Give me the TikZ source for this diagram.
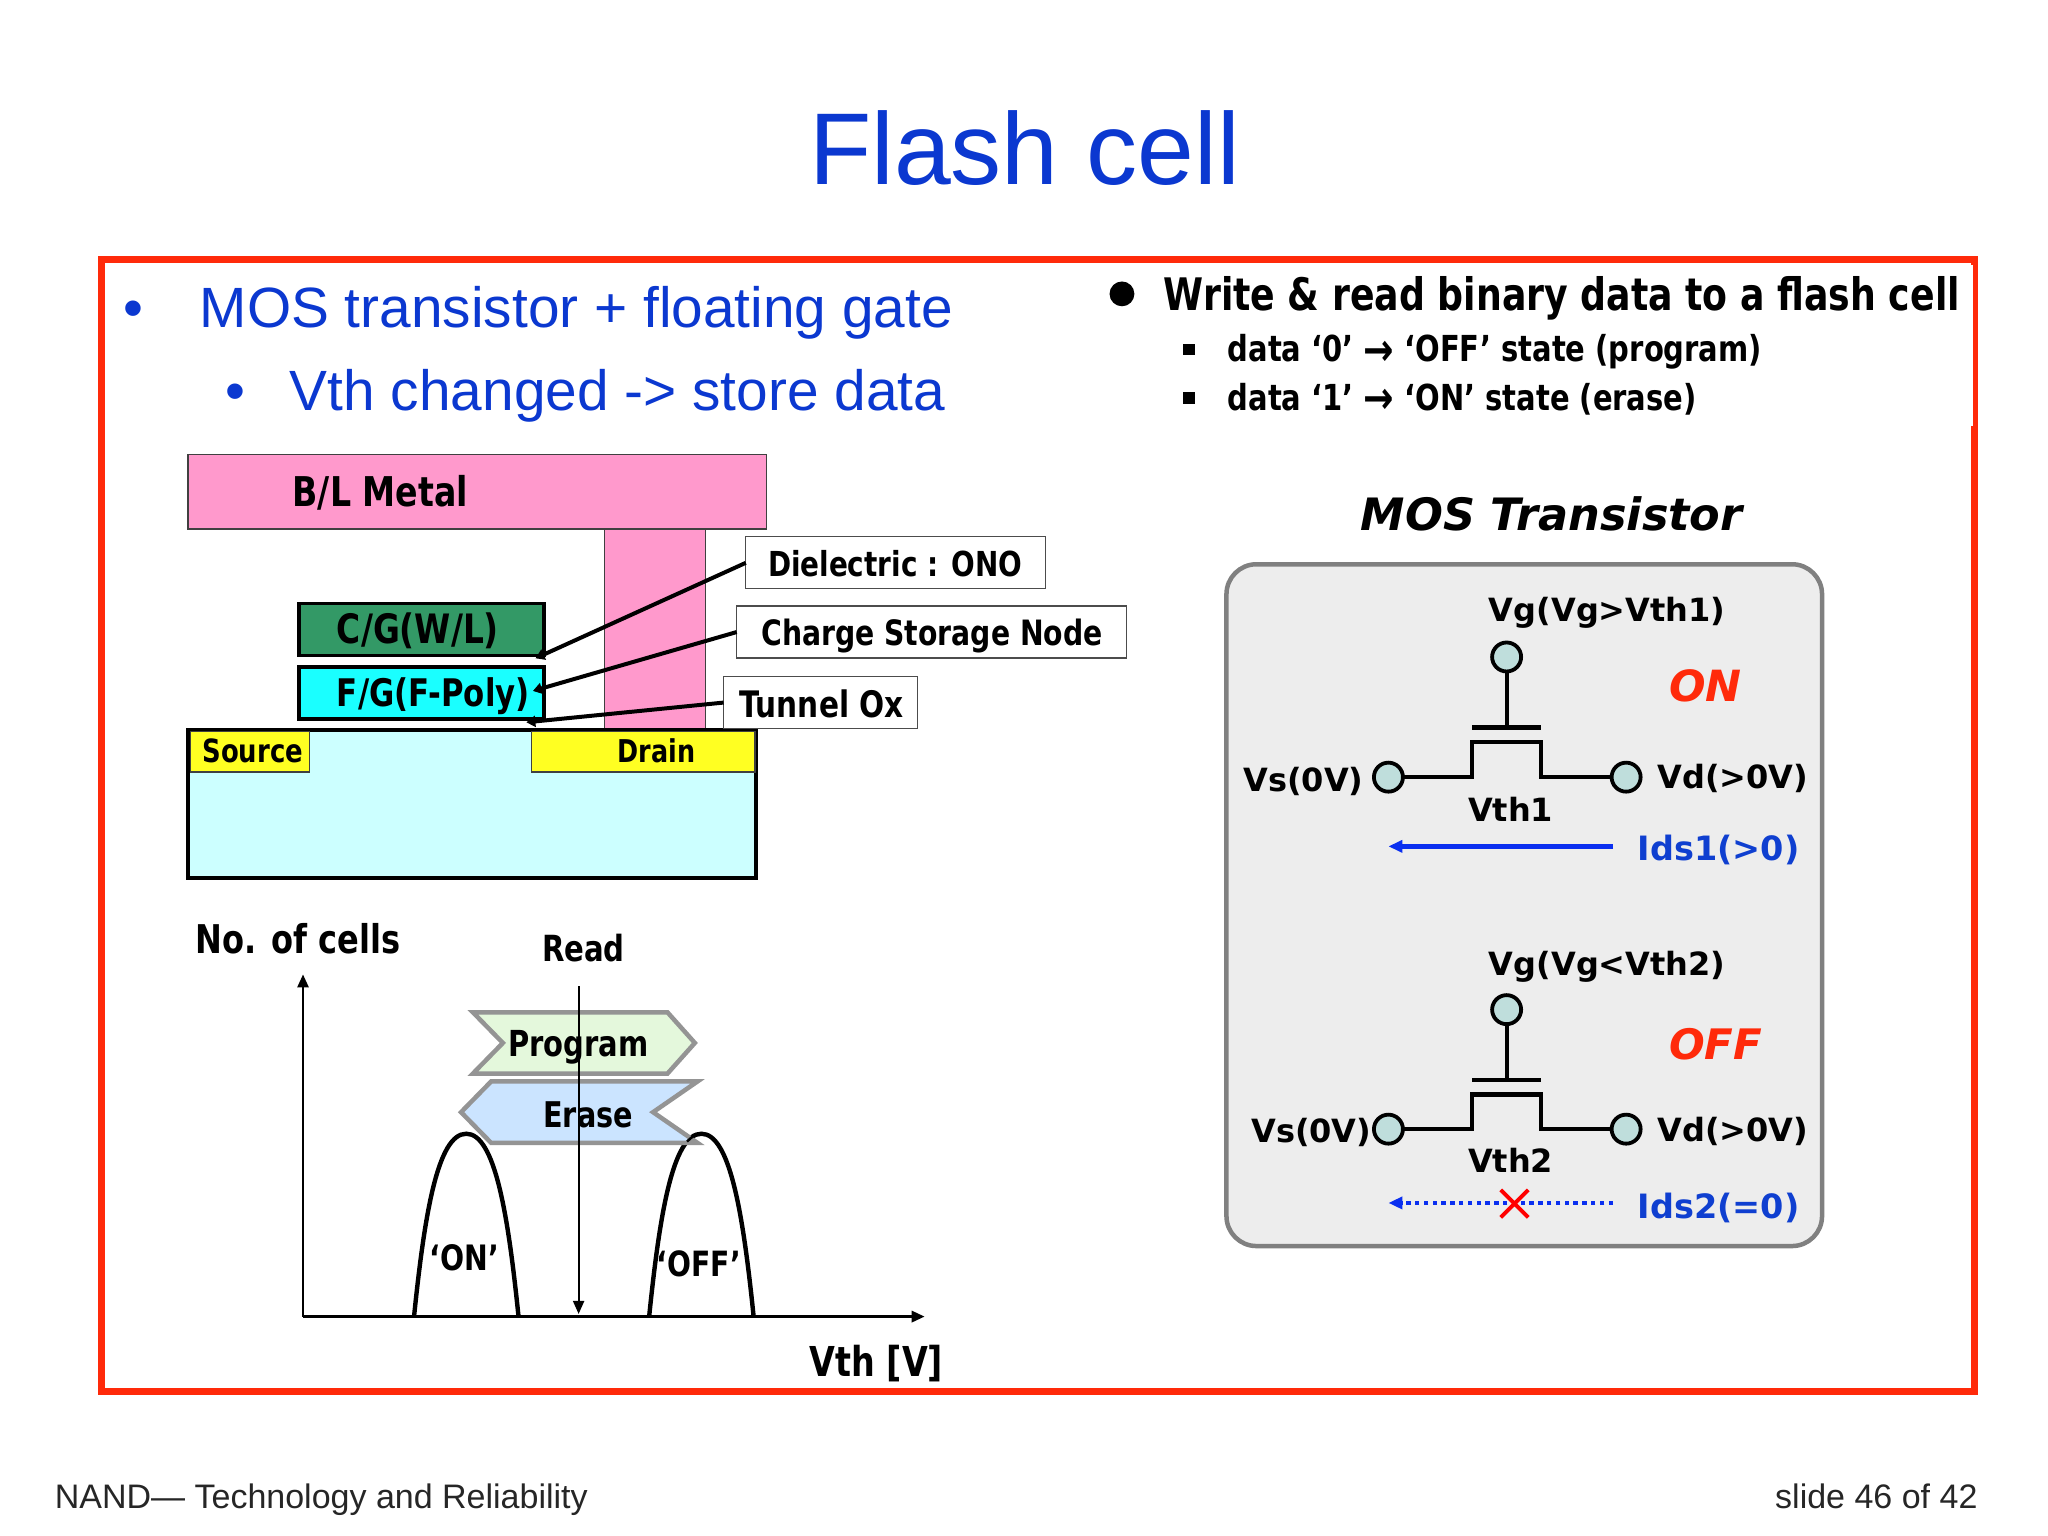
\documentclass[tikz,border=0pt]{standalone}
\usepackage{fontspec}
\setmainfont{Liberation Sans}
\newfontfamily\cond{DejaVu Sans Condensed}[FakeStretch=0.9]
\newfontfamily\wide{DejaVu Sans}
\usetikzlibrary{arrows.meta}
\definecolor{tblue}{HTML}{0B38D0}
\definecolor{fred}{HTML}{FF2A0A}
\definecolor{pinkm}{HTML}{FF99CC}
\definecolor{cgreen}{HTML}{339966}
\definecolor{fcyan}{HTML}{1AFFFF}
\definecolor{subc}{HTML}{CCFFFF}
\definecolor{yel}{HTML}{FFFF22}
\definecolor{proggreen}{HTML}{E4F8DC}
\definecolor{erblue}{HTML}{CBE4FF}
\definecolor{panel}{HTML}{EDEDED}
\definecolor{termc}{HTML}{BFDEDC}
\definecolor{lblue}{HTML}{0F3FD0}
\definecolor{arblue}{HTML}{0A2FF0}
\newcommand{\fs}[1]{\fontsize{#1}{#1}\selectfont}
\newcommand{\bigarrow}{\raisebox{-3.5pt}{\fs{45}→}}
\tikzset{
  x=1.30612pt,y=-1.30612pt,
  every node/.style={inner sep=0pt,outer sep=0pt},
  tc/.style={anchor=base west,font=\cond\bfseries\fs{#1}},
  tw/.style={anchor=base west,font=\wide\bfseries\fs{32}},
  txt/.style={anchor=base west,text=tblue,font=\fs{56.8}},
  layer/.style={draw=black!75,line width=1.2pt},
  thick box/.style={draw=black,line width=3.8pt},
  tag/.style={draw=black!70,fill=white,line width=1.2pt},
  pointer/.style={draw=black,line width=4pt,-{Triangle[length=9pt,width=11pt]}},
  shift arrow/.style={draw=black!42,line width=4.5pt,line join=miter},
  bell/.style={draw=black,line width=4.4pt},
  axis/.style={draw=black,line width=2.6pt,-{Triangle[length=13pt,width=11pt]}},
  term/.style={circle,draw=black,fill=termc,line width=3.8pt,minimum size=29pt},
  wire/.style={draw=black,line width=4.2pt},
  current/.style={draw=arblue,line width=4.6pt,-{Triangle[length=14pt,width=12pt]}},
  nocurrent/.style={draw=arblue,line width=4.4pt,dash pattern=on 4.4pt off 4.4pt,-{Triangle[length=14pt,width=12pt]}},
}
\begin{document}
\begin{tikzpicture}
\useasboundingbox (0,0) rectangle (1568,1176);
\fill[white] (0,0) rectangle (1568,1176);
% frame
\draw[fred,line width=7pt] (78,199) rectangle (1512,1065);
\fill[white] (1507,203) rectangle (1510.5,326);
% titles
\node[anchor=base,text=tblue,font=\fs{102}] (title) at (784.5,141) {Flash cell};
\node[anchor=base,text=tblue,font=\fs{56.8}] (b1) at (102,251) {•};
\node[txt] (t1) at (153,251) {MOS transistor + floating gate};
\node[anchor=base,text=tblue,font=\fs{56.8}] (b2) at (180,314) {•};
\node[txt] (t2) at (222,314) {Vth changed -> store data};
% top right text
\fill[black] (859,225) circle (9.5);
\node[tc=44.8] (w) at (891,238) {Write \& read binary data to a flash cell};
\fill[black] (906,263) rectangle (915,272);
\fill[black] (906,300) rectangle (915,309);
\node[tc=35.8] (d0) at (940,277) {data ‘0’ \bigarrow{} ‘OFF’ state (program)};
\node[tc=35.8] (d1) at (940,314) {data ‘1’ \bigarrow{} ‘ON’ state (erase)};
% cell cross-section
\filldraw[layer,fill=pinkm] (463,405) rectangle (540,558);
\filldraw[layer,fill=pinkm] (144,348) rectangle (587,405);
\node[tc=41] at (224,388) {B/L Metal};
\filldraw[thick box,fill=subc] (144,559) rectangle (579,672);
\filldraw[layer,fill=yel] (146,560) rectangle (237,591);
\filldraw[layer,fill=yel] (407,560) rectangle (578,591);
\node[tc=32] at (155,584) {Source};
\node[tc=31.4] at (473,584) {Drain};
\node[thick box,fill=cgreen,minimum width=245pt,minimum height=52pt,anchor=north west] (cg) at (229,462) {};
\node[tc=40.5] at (258,493) {C/G(W/L)};
\node[thick box,fill=fcyan,minimum width=245pt,minimum height=52pt,anchor=north west] (fg) at (229,510.5) {};
\node[tc=38] at (258,541) {F/G(F-Poly)};
\node[tag,minimum width=300pt,minimum height=52pt,anchor=north west] (die) at (571,411) {};
\node[tc=34.4] at (588,441) {Dielectric : ONO};
\node[tag,minimum width=390pt,minimum height=52pt,anchor=north west] (csn) at (564,464) {};
\node[tc=34.9] at (583,494) {Charge Storage Node};
\node[tag,minimum width=194pt,minimum height=52pt,anchor=north west] (tox) at (554,518) {};
\node[tc=36.5] at (566,549) {Tunnel Ox};
\coordinate (pd) at (410,504);
\coordinate (pc) at (408,529);
\coordinate (pt) at (403,553);
\draw[pointer] (die.west) -- (pd);
\draw[pointer] (csn.west) -- (pc);
\draw[pointer] (tox.west) -- (pt);
% Vth chart
\node[tc=39.6] at (150,730) {No. of cells};
\node[tc=36] at (415,736) {Read};
\coordinate (o) at (232,1008);
\coordinate (ya) at (232,746);
\coordinate (xa) at (708,1008);
\draw[bell] (317,1008) .. controls (325,930) and (335,868) .. (357,868) .. controls (379,868) and (389,930) .. (397,1008);
\draw[bell] (497,1008) .. controls (505,930) and (515,868) .. (537,868) .. controls (559,868) and (569,930) .. (577,1008);
\draw[axis] (o) -- (ya);
\draw[axis,line width=3pt] (o) -- (xa);
\filldraw[shift arrow,fill=proggreen] (362,775) -- (511,775) -- (532,798.5) -- (511,822) -- (362,822) -- (385,798.5) -- cycle;
\filldraw[shift arrow,fill=erblue] (534,828) -- (376,828) -- (353,851.5) -- (376,875) -- (534,875) -- (500,851.5) -- cycle;
\node[tc=35.8] at (389,809) {Program};
\node[tc=35.4] at (416,863) {Erase};
\draw[bell,line width=2.5pt] (526,874) .. controls (530,870) and (533,868) .. (537,868);
\coordinate (r0) at (443,755);
\coordinate (r1) at (443,1006);
\draw[axis,line width=2pt] (r0) -- (r1);
\node[tc=35] at (329,973) {‘ON’};
\node[tc=34.8] at (503,977) {‘OFF’};
\node[tc=41.2] at (620,1054) {Vth [V]};
% MOS panel
\node[anchor=base,font=\wide\bfseries\itshape\fs{44.6}] at (1188,406) {MOS Transistor};
\filldraw[draw=black!50,fill=panel,line width=4.5pt,rounded corners=30pt] (939,432) rectangle (1395,954);
% transistor 1
\node[term] (g1) at (1153.5,503) {};
\node[term] (s1) at (1063,595) {};
\node[term] (d1t) at (1245,595) {};
\coordinate (bar1) at (1153.5,557);
\coordinate (b1l) at (1127,557);
\coordinate (b1r) at (1180,557);
\coordinate (c1l) at (1127,568);
\coordinate (c1r) at (1180,568);
\draw[wire] (g1) -- (bar1);
\draw[wire] (b1l) -- (b1r);
\draw[wire] (s1) -- (1127,595) -- (c1l) -- (c1r) -- (1180,595) -- (d1t);
\node[tw] at (1140,476) {Vg(Vg>Vth1)};
\node[tw] at (952,606) {Vs(0V)};
\node[tw] at (1269,604) {Vd(>0V)};
\node[tw] at (1124,629) {Vth1};
\node[tw,font=\wide\bfseries\fs{33.5},text=lblue] at (1254,659) {Ids1(>0)};
\node[anchor=base west,text=fred,font=\wide\bfseries\itshape\fs{43}] at (1278,537) {ON};
\coordinate (i1a) at (1235,648);
\coordinate (i1b) at (1063,648);
\draw[current] (i1a) -- (i1b);
% transistor 2
\node[term] (g2) at (1153.5,773) {};
\node[term] (s2) at (1063,864.5) {};
\node[term] (d2t) at (1245,864.5) {};
\coordinate (bar2) at (1153.5,827);
\coordinate (b2l) at (1127,827);
\coordinate (b2r) at (1180,827);
\coordinate (c2l) at (1127,838);
\coordinate (c2r) at (1180,838);
\draw[wire] (g2) -- (bar2);
\draw[wire] (b2l) -- (b2r);
\draw[wire] (s2) -- (1127,864.5) -- (c2l) -- (c2r) -- (1180,864.5) -- (d2t);
\node[tw] at (1140,747) {Vg(Vg<Vth2)};
\node[tw] at (958,875) {Vs(0V)};
\node[tw] at (1269,874) {Vd(>0V)};
\node[tw] at (1124,898) {Vth2};
\node[tw,font=\wide\bfseries\fs{33.5},text=lblue] at (1254,933) {Ids2(=0)};
\node[anchor=base west,text=fred,font=\wide\bfseries\itshape\fs{42}] at (1278,811) {OFF};
\coordinate (i2a) at (1235,921);
\coordinate (i2b) at (1063,921);
\draw[nocurrent] (i2a) -- (i2b);
\draw[draw=red,line width=3.8pt] (1149,911) -- (1170,932) (1170,911) -- (1149,932);
% footer
\node[anchor=base west,font=\fs{34},text=black!85] at (42,1155) {NAND— Technology and Reliability};
\node[anchor=base east,font=\fs{34},text=black!85] at (1514,1155) {slide 46 of 42};
\end{tikzpicture}
\end{document}
